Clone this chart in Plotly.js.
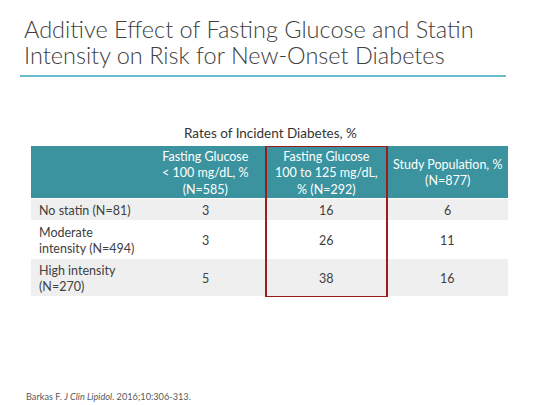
<!DOCTYPE html>
<html>
<head>
<meta charset="utf-8">
<script src="https://cdn.plot.ly/plotly-3.0.1.min.js"></script>
<style>html,body{margin:0;padding:0;background:#fff;}#chart{width:540px;height:405px;}</style>
</head>
<body>
<div id="chart"></div>
<script>
// ---- data ----
const columnHeaders = [
  "",
  "Fasting Glucose<br>< 100 mg/dL, %<br>(N=585)",
  "Fasting Glucose<br>100 to 125 mg/dL,<br>% (N=292)",
  "Study Population, %<br>(N=877)"
];
const rowLabels = ["No statin (N=81)", "Moderate<br>intensity (N=494)", "High intensity<br>(N=270)"];
const glucoseUnder100 = [3, 3, 5];
const glucose100to125 = [16, 26, 38];
const studyPopulation = [6, 11, 16];
const highlightCol = 2;

// ---- layout geometry (table units = px) ----
const colWidths = [114, 121, 121, 121];
const rowHeights = [53, 22, 38, 38]; // header + 3 rows
const xDomain = [31 / 540, 508 / 540];
const yDomain = [1 - 297 / 405, 1 - 146 / 405];

const cum = a => a.reduce((acc, v) => { acc.push(acc[acc.length - 1] + v); return acc; }, [0]);
const xEdges = cum(colWidths);
const yEdges = cum(rowHeights);
const totalW = xEdges[xEdges.length - 1];
const totalH = yEdges[yEdges.length - 1];
const xCenter = i => (xEdges[i] + xEdges[i + 1]) / 2;
const yCenter = r => (yEdges[r] + yEdges[r + 1]) / 2;

// fill codes: 0 = header teal, 1 = gray band, 2 = white band
const z = rowHeights.map((_, r) => colWidths.map(() => r === 0 ? 0 : (r % 2 === 1 ? 1 : 2)));

const cellTrace = {
  type: "heatmap",
  x: xEdges, y: yEdges, z: z,
  zmin: 0, zmax: 2,
  colorscale: [[0, "#3a939e"], [0.25, "#3a939e"], [0.25, "#efefef"], [0.75, "#efefef"], [0.75, "#ffffff"], [1, "#ffffff"]],
  showscale: false, ygap: 1, hoverinfo: "skip"
};

const FONT = "Lato, 'Open Sans', sans-serif";
const annotations = [];
// header
columnHeaders.forEach((h, c) => {
  if (!h) return;
  annotations.push({text: h, xref: "x", yref: "y", x: xCenter(c), y: yCenter(0),
    xanchor: "center", yanchor: "middle", showarrow: false, align: "center",
    font: {family: FONT, size: 12.5, color: "#ffffff"}});
});
// body
const bodyCols = [glucoseUnder100, glucose100to125, studyPopulation];
rowLabels.forEach((lab, i) => {
  const r = i + 1;
  annotations.push({text: lab, xref: "x", yref: "y", x: xEdges[0] + 6, y: yCenter(r),
    xanchor: "left", yanchor: "middle", showarrow: false, align: "left",
    font: {family: FONT, size: 12.5, color: "#404040"}});
  bodyCols.forEach((col, j) => {
    annotations.push({text: String(col[i]), xref: "x", yref: "y", x: xCenter(j + 1), y: yCenter(r),
      xanchor: "center", yanchor: "middle", showarrow: false,
      font: {family: FONT, size: 12.5, color: "#404040"}});
  });
});
// titles & notes
annotations.push(
  {text: "Additive Effect of Fasting Glucose and Statin", xref: "paper", yref: "paper",
   x: 22 / 540, y: 1 - 29 / 405, xanchor: "left", yanchor: "middle", showarrow: false,
   font: {family: FONT, size: 23.5, color: "#404040", weight: 300}},
  {text: "Intensity on Risk for New-Onset Diabetes", xref: "paper", yref: "paper",
   x: 22 / 540, y: 1 - 55 / 405, xanchor: "left", yanchor: "middle", showarrow: false,
   font: {family: FONT, size: 23.5, color: "#404040", weight: 300}},
  {text: "Rates of Incident Diabetes, %", xref: "paper", yref: "paper",
   x: 270 / 540, y: 1 - 133 / 405, xanchor: "center", yanchor: "middle", showarrow: false,
   font: {family: FONT, size: 13.5, color: "#333333"}},
  {text: "Barkas F. <i>J Clin Lipidol</i>. 2016;10:306-313.", xref: "paper", yref: "paper",
   x: 24 / 540, y: 1 - 396 / 405, xanchor: "left", yanchor: "middle", showarrow: false,
   font: {family: FONT, size: 9.2, color: "#595959"}}
);

const layout = {
  width: 540, height: 405,
  margin: {l: 0, r: 0, t: 0, b: 0},
  paper_bgcolor: "#ffffff", plot_bgcolor: "#ffffff",
  showlegend: false,
  xaxis: {domain: xDomain, range: [0, totalW], visible: false, fixedrange: true},
  yaxis: {domain: yDomain, range: [totalH, 0], visible: false, fixedrange: true},
  shapes: [
    {type: "line", xref: "paper", yref: "paper", x0: 20 / 540, x1: 506 / 540,
     y0: 1 - 76 / 405, y1: 1 - 76 / 405, line: {color: "#3aa7c0", width: 1.5}},
    {type: "rect", xref: "x", yref: "y", x0: xEdges[highlightCol], x1: xEdges[highlightCol + 1],
     y0: yEdges[0], y1: totalH, line: {color: "#9b1c1c", width: 2}}
  ],
  annotations: annotations
};

Plotly.newPlot("chart", [cellTrace], layout, {displayModeBar: false, staticPlot: true});
</script>
</body>
</html>
